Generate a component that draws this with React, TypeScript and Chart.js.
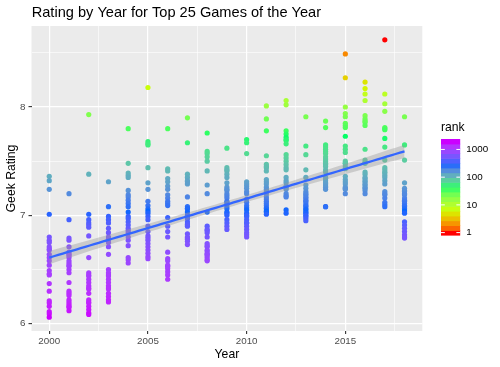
import React, { useEffect, useRef } from "react";
import { Chart, registerables } from "chart.js";

Chart.register(...registerables);

// ---------------- data ----------------
const YEARS = [2000, 2001, 2002, 2003, 2004, 2005, 2006, 2007, 2008, 2009, 2010, 2011, 2012, 2013, 2014, 2015, 2016, 2017, 2018];

const R2000 = [7.36, 7.32, 7.24, 7.01, 6.80, 6.77, 6.75, 6.71, 6.69, 6.68, 6.64, 6.61, 6.58, 6.54, 6.49, 6.46, 6.45, 6.37, 6.30, 6.21, 6.19, 6.16, 6.11, 6.09, 6.06];
const K2000 = [120, 133, 165, 320, 575, 615, 640, 700, 730, 745, 805, 855, 905, 970, 1055, 1105, 1120, 1260, 1400, 1580, 1625, 1695, 1815, 1860, 1950];
const R2001 = [7.20, 6.96, 6.79, 6.77, 6.71, 6.66, 6.64, 6.63, 6.61, 6.58, 6.56, 6.54, 6.53, 6.50, 6.47, 6.38, 6.30, 6.28, 6.26, 6.22, 6.20, 6.18, 6.16, 6.15, 6.12];
const K2001 = [185, 370, 590, 615, 700, 780, 805, 820, 855, 905, 935, 970, 985, 1035, 1085, 1240, 1400, 1440, 1480, 1560, 1600, 1650, 1695, 1720, 1790];
const R2002 = [7.93, 7.38, 7.01, 6.96, 6.93, 6.91, 6.89, 6.81, 6.61, 6.47, 6.45, 6.44, 6.41, 6.38, 6.35, 6.33, 6.32, 6.28, 6.22, 6.20, 6.19, 6.16, 6.13, 6.10, 6.085];
const K2002 = [21, 114, 320, 370, 400, 420, 450, 560, 855, 1085, 1120, 1135, 1185, 1240, 1300, 1340, 1360, 1440, 1560, 1600, 1625, 1695, 1765, 1840, 1880];
const R2003 = [7.31, 7.08, 6.99, 6.96, 6.93, 6.88, 6.84, 6.80, 6.78, 6.75, 6.71, 6.64, 6.50, 6.47, 6.45, 6.44, 6.41, 6.38, 6.35, 6.33, 6.32, 6.28, 6.25, 6.22, 6.20];
const K2003 = [137, 260, 340, 370, 400, 465, 520, 575, 600, 640, 700, 805, 1035, 1085, 1120, 1135, 1185, 1240, 1300, 1340, 1360, 1440, 1500, 1560, 1600];
const R2004 = [7.80, 7.48, 7.39, 7.37, 7.35, 7.23, 7.19, 7.17, 7.14, 7.11, 7.08, 7.03, 6.99, 6.97, 6.94, 6.91, 6.88, 6.86, 6.84, 6.80, 6.77, 6.72, 6.61, 6.59, 6.56];
const K2004 = [34, 89, 111, 117, 123, 170, 190, 200, 218, 238, 260, 300, 340, 360, 385, 420, 465, 495, 520, 575, 615, 690, 855, 885, 935];
const R2005 = [8.18, 7.68, 7.66, 7.65, 7.44, 7.30, 7.24, 7.13, 7.09, 7.06, 7.04, 7.02, 6.99, 6.96, 6.90, 6.85, 6.81, 6.79, 6.77, 6.74, 6.71, 6.68, 6.65, 6.62, 6.60];
const K2005 = [7, 51, 54, 56, 98, 140, 165, 228, 250, 275, 295, 310, 340, 370, 440, 505, 560, 590, 615, 655, 700, 745, 790, 840, 870];
const R2006 = [7.80, 7.43, 7.41, 7.34, 7.31, 7.27, 7.24, 7.19, 7.16, 7.13, 7.11, 7.09, 6.98, 6.90, 6.85, 6.80, 6.66, 6.60, 6.58, 6.54, 6.53, 6.51, 6.48, 6.45, 6.41];
const K2006 = [34, 101, 106, 126, 137, 152, 165, 190, 205, 228, 238, 250, 350, 440, 505, 575, 780, 870, 905, 970, 985, 1020, 1070, 1120, 1185];
const R2007 = [7.90, 7.67, 7.38, 7.35, 7.32, 7.31, 7.29, 7.17, 7.08, 7.06, 7.06, 7.03, 7.00, 6.99, 6.97, 6.94, 6.92, 6.91, 6.90, 6.83, 6.80, 6.79, 6.78, 6.76, 6.73];
const K2007 = [24, 52, 114, 123, 133, 137, 144, 200, 260, 275, 275, 300, 330, 340, 360, 385, 410, 420, 440, 535, 575, 590, 600, 625, 675];
const R2008 = [7.76, 7.59, 7.57, 7.54, 7.50, 7.41, 7.28, 7.20, 7.03, 6.90, 6.87, 6.86, 6.84, 6.80, 6.74, 6.72, 6.71, 6.68, 6.67, 6.65, 6.64, 6.63, 6.61, 6.59, 6.58];
const K2008 = [40, 65, 69, 75, 84, 106, 148, 185, 300, 440, 480, 495, 520, 575, 655, 690, 700, 745, 765, 790, 805, 820, 855, 885, 905];
const R2009 = [7.62, 7.44, 7.42, 7.41, 7.38, 7.35, 7.30, 7.26, 7.24, 7.23, 7.20, 7.18, 7.16, 7.13, 7.12, 7.10, 7.08, 7.06, 7.03, 7.02, 7.00, 6.96, 6.93, 6.90, 6.87];
const K2009 = [62, 98, 103, 106, 114, 123, 140, 156, 165, 170, 185, 195, 205, 228, 232, 245, 260, 275, 300, 310, 330, 370, 400, 440, 480];
const R2010 = [7.70, 7.67, 7.57, 7.31, 7.29, 7.27, 7.25, 7.22, 7.20, 7.15, 7.12, 7.09, 7.07, 7.05, 7.02, 7.00, 6.99, 6.96, 6.93, 6.93, 6.90, 6.87, 6.84, 6.82, 6.80];
const K2010 = [48, 52, 69, 137, 144, 152, 160, 175, 185, 210, 232, 250, 265, 285, 310, 330, 340, 370, 400, 400, 440, 480, 520, 545, 575];
const R2011 = [8.01, 7.89, 7.78, 7.55, 7.47, 7.45, 7.44, 7.41, 7.33, 7.31, 7.29, 7.26, 7.24, 7.22, 7.20, 7.17, 7.15, 7.13, 7.11, 7.09, 7.07, 7.06, 7.04, 7.03, 7.01];
const K2011 = [15, 25, 37, 73, 91, 96, 98, 106, 130, 137, 144, 156, 165, 175, 185, 200, 210, 228, 238, 250, 265, 275, 295, 300, 320];
const R2012 = [8.06, 8.02, 7.78, 7.75, 7.72, 7.70, 7.69, 7.66, 7.56, 7.53, 7.50, 7.47, 7.44, 7.42, 7.35, 7.32, 7.30, 7.27, 7.26, 7.24, 7.20, 7.18, 7.17, 7.05, 7.02];
const K2012 = [12, 14, 37, 41, 45, 48, 49, 54, 71, 77, 84, 91, 98, 103, 123, 133, 140, 152, 156, 165, 185, 195, 200, 285, 310];
const R2013 = [7.91, 7.64, 7.56, 7.42, 7.35, 7.28, 7.25, 7.22, 7.20, 7.19, 7.17, 7.16, 7.14, 7.13, 7.11, 7.09, 7.08, 7.06, 7.05, 7.03, 7.02, 7.00, 6.99, 6.97, 6.95];
const K2013 = [23, 58, 71, 103, 123, 148, 160, 175, 185, 190, 200, 205, 218, 228, 238, 250, 260, 275, 285, 300, 310, 330, 340, 360, 380];
const R2014 = [7.87, 7.81, 7.65, 7.63, 7.61, 7.59, 7.57, 7.54, 7.52, 7.50, 7.48, 7.47, 7.45, 7.42, 7.40, 7.35, 7.34, 7.32, 7.30, 7.29, 7.27, 7.26, 7.24, 7.08, 7.08];
const K2014 = [27, 33, 55, 59, 62, 65, 69, 75, 80, 84, 89, 91, 96, 103, 108, 123, 126, 133, 140, 144, 152, 156, 165, 260, 262];
const R2015 = [8.49, 8.27, 8.00, 7.94, 7.91, 7.85, 7.83, 7.81, 7.73, 7.64, 7.61, 7.58, 7.50, 7.48, 7.48, 7.45, 7.43, 7.36, 7.33, 7.31, 7.29, 7.26, 7.25, 7.24, 7.20];
const K2015 = [2, 4, 16, 20, 23, 29, 31, 33, 44, 58, 62, 67, 84, 88, 89, 96, 100, 120, 130, 137, 144, 156, 160, 165, 185];
const R2016 = [8.23, 8.17, 8.12, 8.06, 7.92, 7.89, 7.87, 7.86, 7.83, 7.61, 7.51, 7.49, 7.48, 7.40, 7.38, 7.35, 7.34, 7.32, 7.31, 7.29, 7.28, 7.26, 7.25, 7.23, 7.20];
const K2016 = [5, 6, 8, 11, 22, 25, 26, 28, 31, 63, 82, 86, 88, 108, 114, 123, 126, 133, 137, 144, 148, 156, 160, 170, 185];
const R2017 = [8.62, 8.12, 8.03, 7.96, 7.81, 7.80, 7.79, 7.71, 7.63, 7.51, 7.44, 7.42, 7.40, 7.39, 7.37, 7.35, 7.32, 7.29, 7.22, 7.20, 7.19, 7.16, 7.12, 7.10, 7.08];
const K2017 = [1, 9, 13, 19, 33, 34, 36, 46, 59, 82, 98, 103, 108, 111, 117, 123, 133, 144, 175, 185, 190, 205, 232, 245, 260];
const R2018 = [7.91, 7.65, 7.51, 7.30, 7.25, 7.23, 7.22, 7.20, 7.19, 7.16, 7.14, 7.13, 7.11, 7.09, 7.08, 7.06, 7.04, 7.02, 6.94, 6.91, 6.88, 6.85, 6.82, 6.80, 6.79];
const K2018 = [23, 55, 82, 140, 160, 170, 175, 185, 190, 205, 218, 228, 238, 250, 260, 275, 295, 310, 385, 420, 465, 505, 545, 575, 590];

const X_MAJOR = [2000, 2005, 2010, 2015];
const X_MINOR = [2002.5, 2007.5, 2012.5, 2017.5];
const Y_MAJOR = [6, 7, 8];
const Y_MINOR = [6.5, 7.5, 8.5];
const LEGEND_BREAKS = [1, 10, 100, 1000];
const RAINBOW = ["#FF0000", "#CCFF00", "#00FF66", "#0066FF", "#CC00FF"];

const TITLE = "Rating by Year for Top 25 Games of the Year";
const X_TITLE = "Year";
const Y_TITLE = "Geek Rating";
const LEGEND_TITLE = "rank";

// tables built from the named arrays
const RATINGS = [R2000, R2001, R2002, R2003, R2004, R2005, R2006, R2007, R2008, R2009, R2010, R2011, R2012, R2013, R2014, R2015, R2016, R2017, R2018];
const RANKS = [K2000, K2001, K2002, K2003, K2004, K2005, K2006, K2007, K2008, K2009, K2010, K2011, K2012, K2013, K2014, K2015, K2016, K2017, K2018];

// ---------------- colour (Lab interpolation like ggplot's gradientn) ----------------
const FONT = "'Liberation Sans', Arial, Helvetica, sans-serif";

function hexToRgb(h: string): number[] {
  const v = parseInt(h.slice(1), 16);
  return [(v >> 16) & 255, (v >> 8) & 255, v & 255];
}
function toLin(c: number) {
  c /= 255;
  return c <= 0.04045 ? c / 12.92 : Math.pow((c + 0.055) / 1.055, 2.4);
}
function fromLin(c: number) {
  const v = c <= 0.0031308 ? 12.92 * c : 1.055 * Math.pow(Math.max(c, 0), 1 / 2.4) - 0.055;
  return Math.round(Math.max(0, Math.min(1, v)) * 255);
}
const XN = 0.95047, YN = 1.0, ZN = 1.08883;
function rgbToLab(rgb: number[]): number[] {
  const R = toLin(rgb[0]), G = toLin(rgb[1]), B = toLin(rgb[2]);
  const X = (0.4124564 * R + 0.3575761 * G + 0.1804375 * B) / XN;
  const Y = (0.2126729 * R + 0.7151522 * G + 0.072175 * B) / YN;
  const Z = (0.0193339 * R + 0.119192 * G + 0.9503041 * B) / ZN;
  const f = (t: number) => (t > 0.008856 ? Math.cbrt(t) : 7.787 * t + 16 / 116);
  const fx = f(X), fy = f(Y), fz = f(Z);
  return [116 * fy - 16, 500 * (fx - fy), 200 * (fy - fz)];
}
function labToRgb(lab: number[]): number[] {
  const fy = (lab[0] + 16) / 116;
  const fx = fy + lab[1] / 500;
  const fz = fy - lab[2] / 200;
  const inv = (t: number) => (t * t * t > 0.008856 ? t * t * t : (t - 16 / 116) / 7.787);
  const X = inv(fx) * XN, Y = inv(fy) * YN, Z = inv(fz) * ZN;
  const R = 3.2404542 * X - 1.5371385 * Y - 0.4985314 * Z;
  const G = -0.969266 * X + 1.8760108 * Y + 0.041556 * Z;
  const B = 0.0556434 * X - 0.2040259 * Y + 1.0572252 * Z;
  return [fromLin(R), fromLin(G), fromLin(B)];
}
const LAB_STOPS = RAINBOW.map((c) => rgbToLab(hexToRgb(c)));
function palette(t: number): string {
  t = Math.max(0, Math.min(1, t));
  const n = LAB_STOPS.length - 1;
  const p = t * n;
  const i = Math.min(Math.floor(p), n - 1);
  const f = p - i;
  const a = LAB_STOPS[i], b = LAB_STOPS[i + 1];
  const lab = [a[0] + (b[0] - a[0]) * f, a[1] + (b[1] - a[1]) * f, a[2] + (b[2] - a[2]) * f];
  const rgb = labToRgb(lab);
  return `rgb(${rgb[0]},${rgb[1]},${rgb[2]})`;
}

// ---------------- derived data ----------------
type Pt = { x: number; y: number; rank: number };
const POINTS: Pt[] = [];
YEARS.forEach((yr, i) => RATINGS[i].forEach((r, j) => POINTS.push({ x: yr, y: r, rank: RANKS[i][j] })));

const allRanks = POINTS.map((p) => p.rank);
const LOG_MIN = Math.log10(Math.min(...allRanks));
const LOG_MAX = Math.log10(Math.max(...allRanks));
const rankT = (rank: number) => (Math.log10(rank) - LOG_MIN) / (LOG_MAX - LOG_MIN);
const POINT_COLORS = POINTS.map((p) => palette(rankT(p.rank)));

// linear model with 95% confidence band (geom_smooth(method = "lm"))
const n = POINTS.length;
const mx = POINTS.reduce((s, p) => s + p.x, 0) / n;
const my = POINTS.reduce((s, p) => s + p.y, 0) / n;
let sxx = 0, sxy = 0;
POINTS.forEach((p) => { sxx += (p.x - mx) ** 2; sxy += (p.x - mx) * (p.y - my); });
const slope = sxy / sxx;
const icpt = my - slope * mx;
let sse = 0;
POINTS.forEach((p) => { sse += (p.y - (icpt + slope * p.x)) ** 2; });
const sigma = Math.sqrt(sse / (n - 2));
const TCRIT = 1.965;
const xs0 = Math.min(...YEARS), xs1 = Math.max(...YEARS);
const FIT: { x: number; y: number }[] = [];
const UPPER: { x: number; y: number }[] = [];
const LOWER: { x: number; y: number }[] = [];
for (let k = 0; k < 80; k++) {
  const x = xs0 + ((xs1 - xs0) * k) / 79;
  const yhat = icpt + slope * x;
  const se = sigma * Math.sqrt(1 / n + (x - mx) ** 2 / sxx);
  FIT.push({ x, y: yhat });
  UPPER.push({ x, y: yhat + TCRIT * se });
  LOWER.push({ x, y: yhat - TCRIT * se });
}

const yVals = POINTS.map((p) => p.y);
const yLo = Math.min(...yVals), yHi = Math.max(...yVals);
const yPad = (yHi - yLo) * 0.05;
const xPad = (xs1 - xs0) * 0.05;

// ---------------- plugins ----------------
const decor = {
  id: "decor",
  beforeDraw(chart: any) {
    const { ctx, chartArea: a } = chart;
    ctx.save();
    ctx.fillStyle = "#FFFFFF";
    ctx.fillRect(0, 0, chart.width, chart.height);
    ctx.fillStyle = "#EBEBEB";
    ctx.fillRect(a.left, a.top, a.right - a.left, a.bottom - a.top);
    ctx.restore();
  },
  afterDraw(chart: any) {
    const { ctx } = chart;
    ctx.save();
    // title
    ctx.fillStyle = "#000000";
    ctx.font = `14.6px ${FONT}`;
    ctx.textAlign = "left";
    ctx.textBaseline = "alphabetic";
    ctx.fillText(TITLE, 31.7, 17.2);

    // legend title
    ctx.font = `12.2px ${FONT}`;
    ctx.fillText(LEGEND_TITLE, 441, 131.3);

    // colour bar
    const bx = 441, bw = 19.2, by0 = 139, bh = 96;
    const nbin = 20;
    for (let i = 0; i < nbin; i++) {
      ctx.fillStyle = palette(i / (nbin - 1));
      const yb = by0 + bh - ((i + 1) * bh) / nbin;
      ctx.fillRect(bx, yb, bw, bh / nbin + 0.6);
    }
    const posY = (rank: number) => by0 + bh - bh * (0.5 / nbin + ((nbin - 1) / nbin) * rankT(rank));
    ctx.strokeStyle = "#FFFFFF";
    ctx.lineWidth = 1;
    ctx.font = `9.8px ${FONT}`;
    ctx.textBaseline = "middle";
    ctx.fillStyle = "#000000";
    LEGEND_BREAKS.forEach((b) => {
      const y = posY(b);
      ctx.beginPath();
      ctx.moveTo(bx, y); ctx.lineTo(bx + bw / 5, y);
      ctx.moveTo(bx + bw, y); ctx.lineTo(bx + bw - bw / 5, y);
      ctx.stroke();
      ctx.fillText(String(b), 466.3, y);
    });
    ctx.restore();
  },
};

const isIn = (arr: number[], v: number) => arr.some((a) => Math.abs(a - v) < 1e-6);

export default function App() {
  const ref = useRef<HTMLCanvasElement>(null);
  useEffect(() => {
    const chart = new Chart(ref.current as HTMLCanvasElement, {
      type: "scatter",
      data: {
        datasets: [
          {
            type: "line",
            data: FIT,
            borderColor: "#3366FF",
            borderWidth: 2.3,
            pointRadius: 0,
            fill: false,
            order: 1,
          } as any,
          {
            type: "line",
            data: UPPER,
            borderColor: "rgba(0,0,0,0)",
            borderWidth: 0,
            pointRadius: 0,
            fill: false,
            order: 2,
          } as any,
          {
            type: "line",
            data: LOWER,
            borderColor: "rgba(0,0,0,0)",
            borderWidth: 0,
            pointRadius: 0,
            fill: "-1",
            backgroundColor: "rgba(153,153,153,0.4)",
            order: 2,
          } as any,
          {
            type: "scatter",
            data: POINTS.map((p) => ({ x: p.x, y: p.y })),
            pointBackgroundColor: POINT_COLORS,
            pointBorderWidth: 0,
            pointRadius: 2.6,
            order: 3,
          } as any,
        ],
      },
      options: {
        responsive: false,
        animation: false,
        devicePixelRatio: 1,
        events: [],
        layout: { padding: { left: 0, top: 26, right: 77.7, bottom: 0 } },
        plugins: { legend: { display: false }, tooltip: { enabled: false }, title: { display: false } },
        scales: {
          x: {
            type: "linear",
            min: xs0 - xPad,
            max: xs1 + xPad,
            afterBuildTicks: (s: any) => {
              s.ticks = [...X_MAJOR, ...X_MINOR].sort((a, b) => a - b).map((v) => ({ value: v }));
            },
            afterFit: (s: any) => { s.height = 36; },
            border: { display: false },
            grid: {
              color: "#FFFFFF",
              lineWidth: (c: any) => (isIn(X_MAJOR, c.tick?.value) ? 1.2 : 0.6),
              tickColor: (c: any) => (isIn(X_MAJOR, c.tick?.value) ? "#333333" : "rgba(0,0,0,0)"),
              tickWidth: 1.1,
              tickLength: 3,
              drawTicks: true,
            },
            ticks: {
              autoSkip: false,
              maxRotation: 0,
              padding: 1.5,
              color: "#4D4D4D",
              font: { family: FONT, size: 9.8 },
              callback: (v: any) => (isIn(X_MAJOR, v) ? String(v) : ""),
            },
            title: {
              display: true,
              text: X_TITLE,
              color: "#000000",
              font: { family: FONT, size: 12.2 },
              padding: { top: 0, bottom: 5.5 },
            },
          },
          y: {
            type: "linear",
            min: yLo - yPad,
            max: yHi + yPad,
            afterBuildTicks: (s: any) => {
              s.ticks = [...Y_MAJOR, ...Y_MINOR].sort((a, b) => a - b).map((v) => ({ value: v }));
            },
            afterFit: (s: any) => { s.width = 31.5; },
            border: { display: false },
            grid: {
              color: "#FFFFFF",
              lineWidth: (c: any) => (isIn(Y_MAJOR, c.tick?.value) ? 1.2 : 0.6),
              tickColor: (c: any) => (isIn(Y_MAJOR, c.tick?.value) ? "#333333" : "rgba(0,0,0,0)"),
              tickWidth: 1.1,
              tickLength: 3,
              drawTicks: true,
            },
            ticks: {
              autoSkip: false,
              padding: 3,
              color: "#4D4D4D",
              font: { family: FONT, size: 9.8 },
              callback: (v: any) => (isIn(Y_MAJOR, v) ? String(v) : ""),
            },
            title: {
              display: true,
              text: Y_TITLE,
              color: "#000000",
              font: { family: FONT, size: 12.2 },
              padding: { top: 4.5, bottom: 0 },
            },
          },
        },
      },
      plugins: [decor],
    } as any);
    return () => chart.destroy();
  }, []);

  return (
    <div style={{ position: "absolute", left: 0, top: 0, width: 500, height: 367, background: "#fff" }}>
      <canvas ref={ref} width={500} height={367} style={{ display: "block", width: 500, height: 367 }} />
    </div>
  );
}
